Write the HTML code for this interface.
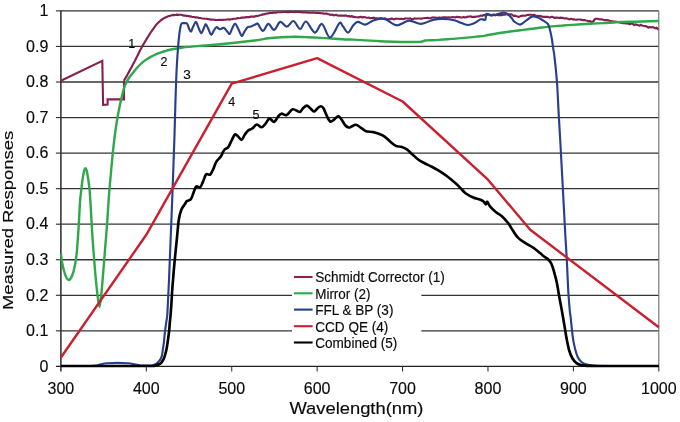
<!DOCTYPE html>
<html lang="en"><head><meta charset="utf-8"><title>Measured Responses vs Wavelength</title>
<style>html,body{margin:0;padding:0;background:#fff;}body{width:680px;height:422px;position:relative;overflow:hidden;font-family:"Liberation Sans",Arial,Helvetica,sans-serif;}</style>
</head><body>
<svg width="680" height="422" viewBox="0 0 680 422" style="display:block;position:absolute;left:0;top:0">
<rect x="0" y="0" width="680" height="422" fill="#ffffff"/>
<line x1="60.90" y1="10.90" x2="658.80" y2="10.90" stroke="#343434" stroke-width="1.3"/>
<line x1="60.90" y1="46.45" x2="658.80" y2="46.45" stroke="#343434" stroke-width="1.3"/>
<line x1="60.90" y1="82.00" x2="658.80" y2="82.00" stroke="#343434" stroke-width="1.3"/>
<line x1="60.90" y1="117.55" x2="658.80" y2="117.55" stroke="#343434" stroke-width="1.3"/>
<line x1="60.90" y1="153.10" x2="658.80" y2="153.10" stroke="#343434" stroke-width="1.3"/>
<line x1="60.90" y1="188.65" x2="658.80" y2="188.65" stroke="#343434" stroke-width="1.3"/>
<line x1="60.90" y1="224.20" x2="658.80" y2="224.20" stroke="#343434" stroke-width="1.3"/>
<line x1="60.90" y1="259.75" x2="658.80" y2="259.75" stroke="#343434" stroke-width="1.3"/>
<line x1="60.90" y1="295.30" x2="658.80" y2="295.30" stroke="#343434" stroke-width="1.3"/>
<line x1="60.90" y1="330.85" x2="658.80" y2="330.85" stroke="#343434" stroke-width="1.3"/>
<line x1="658.80" y1="10.90" x2="658.80" y2="366.40" stroke="#6a6a6a" stroke-width="1.1"/>
<rect x="292" y="266" width="129.3" height="86" fill="#ffffff"/>
<line x1="60.90" y1="10.40" x2="60.90" y2="371.60" stroke="#2a2a2a" stroke-width="1.5"/>
<line x1="55.90" y1="366.40" x2="658.80" y2="366.40" stroke="#222" stroke-width="1.2"/>
<line x1="55.90" y1="10.90" x2="60.90" y2="10.90" stroke="#333" stroke-width="1.15"/>
<line x1="55.90" y1="46.45" x2="60.90" y2="46.45" stroke="#333" stroke-width="1.15"/>
<line x1="55.90" y1="82.00" x2="60.90" y2="82.00" stroke="#333" stroke-width="1.15"/>
<line x1="55.90" y1="117.55" x2="60.90" y2="117.55" stroke="#333" stroke-width="1.15"/>
<line x1="55.90" y1="153.10" x2="60.90" y2="153.10" stroke="#333" stroke-width="1.15"/>
<line x1="55.90" y1="188.65" x2="60.90" y2="188.65" stroke="#333" stroke-width="1.15"/>
<line x1="55.90" y1="224.20" x2="60.90" y2="224.20" stroke="#333" stroke-width="1.15"/>
<line x1="55.90" y1="259.75" x2="60.90" y2="259.75" stroke="#333" stroke-width="1.15"/>
<line x1="55.90" y1="295.30" x2="60.90" y2="295.30" stroke="#333" stroke-width="1.15"/>
<line x1="55.90" y1="330.85" x2="60.90" y2="330.85" stroke="#333" stroke-width="1.15"/>
<line x1="146.31" y1="366.40" x2="146.31" y2="371.60" stroke="#333" stroke-width="1.1"/>
<line x1="231.73" y1="366.40" x2="231.73" y2="371.60" stroke="#333" stroke-width="1.1"/>
<line x1="317.14" y1="366.40" x2="317.14" y2="371.60" stroke="#333" stroke-width="1.1"/>
<line x1="402.56" y1="366.40" x2="402.56" y2="371.60" stroke="#333" stroke-width="1.1"/>
<line x1="487.97" y1="366.40" x2="487.97" y2="371.60" stroke="#333" stroke-width="1.1"/>
<line x1="573.39" y1="366.40" x2="573.39" y2="371.60" stroke="#333" stroke-width="1.1"/>
<line x1="658.80" y1="366.40" x2="658.80" y2="371.60" stroke="#333" stroke-width="1.1"/>
<g fill="none" stroke-linejoin="round" stroke-linecap="butt">
<path d="M60.90,80.80 L102.30,60.90 L103.10,104.80 L107.60,104.60 L107.60,99.40 L124.00,99.40 L124.00,80.60" stroke="#842050" stroke-width="2.1" stroke-linejoin="miter"/>
<path d="M124.00,80.60 L124.38,79.94 L124.88,79.10 L125.48,78.07 L126.19,76.85 L127.00,75.43 L127.90,73.80 L128.40,72.88 L128.95,71.87 L129.54,70.78 L130.17,69.63 L130.82,68.43 L131.48,67.19 L132.16,65.93 L132.83,64.66 L133.50,63.40 L134.16,62.16 L134.80,60.95 L135.40,59.80 L136.03,58.57 L136.65,57.35 L137.26,56.13 L137.87,54.91 L138.46,53.71 L139.05,52.52 L139.64,51.34 L140.22,50.17 L140.81,49.03 L141.40,47.90 L142.00,46.80 L142.67,45.59 L143.37,44.39 L144.07,43.18 L144.78,42.00 L145.48,40.84 L146.17,39.72 L146.83,38.64 L147.47,37.62 L148.06,36.67 L148.60,35.80 L149.50,34.35 L150.22,33.23 L150.85,32.27 L151.51,31.31 L152.30,30.20 L152.95,29.28 L153.62,28.31 L154.32,27.31 L155.05,26.29 L155.82,25.29 L156.64,24.32 L157.50,23.40 L158.42,22.51 L159.41,21.62 L160.44,20.75 L161.50,19.92 L162.58,19.14 L163.65,18.43 L164.70,17.80 L165.91,17.21 L167.12,16.76 L168.34,16.10 L169.56,16.02 L170.78,15.60 L172.00,15.21 L173.23,14.89 L174.46,15.08 L175.69,15.04 L176.93,14.59 L178.17,14.90 L179.40,14.76 L180.63,14.74 L181.87,14.96 L183.11,15.37 L184.34,15.64 L185.57,15.50 L186.80,15.95 L188.02,15.88 L189.24,16.35 L190.46,16.36 L191.67,16.78 L192.88,17.01 L194.10,17.00 L195.32,17.44 L196.56,17.39 L197.79,17.54 L199.02,18.02 L200.22,18.00 L201.40,18.27 L202.73,18.54 L204.00,18.77 L205.26,18.70 L206.57,18.76 L208.00,19.26 L209.07,19.14 L210.15,19.56 L211.26,19.68 L212.43,19.59 L213.67,19.75 L215.02,19.86 L216.50,19.96 L217.63,19.95 L218.84,19.93 L220.11,19.94 L221.44,20.05 L222.80,19.82 L224.19,19.73 L225.58,19.78 L226.98,19.49 L228.35,19.42 L229.70,19.61 L231.03,19.28 L232.36,19.14 L233.69,18.73 L235.03,18.72 L236.36,18.59 L237.70,18.14 L239.03,18.20 L240.36,18.01 L241.68,17.58 L243.00,17.66 L244.32,17.44 L245.63,17.40 L246.94,17.13 L248.26,17.17 L249.56,17.07 L250.86,16.64 L252.16,16.52 L253.45,16.65 L254.73,16.60 L256.00,16.09 L257.25,15.94 L258.49,15.73 L259.71,15.30 L260.93,15.00 L262.14,14.65 L263.35,14.34 L264.57,14.13 L265.79,13.70 L267.04,13.47 L268.30,13.42 L269.58,12.91 L270.88,12.98 L272.19,12.92 L273.51,12.61 L274.84,12.47 L276.17,12.63 L277.50,12.30 L278.84,12.20 L280.17,12.24 L281.50,12.29 L282.83,11.96 L284.16,12.00 L285.49,11.95 L286.82,12.13 L288.15,11.92 L289.48,12.07 L290.81,11.75 L292.14,11.82 L293.47,11.96 L294.80,12.07 L296.12,11.90 L297.44,11.84 L298.76,11.84 L300.08,12.08 L301.39,12.00 L302.71,12.34 L304.03,12.43 L305.35,12.21 L306.67,12.33 L308.00,12.64 L309.33,12.63 L310.67,12.77 L312.01,12.63 L313.36,12.60 L314.70,12.75 L316.04,13.04 L317.39,12.89 L318.73,13.02 L320.07,13.15 L321.40,13.26 L322.74,13.39 L324.10,13.76 L325.46,13.59 L326.83,13.69 L328.19,14.28 L329.53,14.43 L330.85,14.93 L332.14,14.54 L333.39,15.21 L334.60,15.33 L336.05,14.78 L337.45,15.44 L338.80,15.67 L340.11,15.62 L341.38,15.59 L342.61,15.47 L343.82,15.63 L345.00,15.63 L346.45,15.60 L347.74,16.23 L348.98,16.04 L350.25,16.67 L351.66,16.01 L353.30,17.00 L354.42,16.88 L355.62,17.21 L356.90,17.28 L358.22,17.39 L359.59,17.17 L360.98,16.71 L362.38,17.55 L363.78,17.08 L365.15,17.31 L366.50,17.76 L367.83,17.71 L369.15,17.69 L370.48,18.30 L371.81,18.06 L373.14,17.87 L374.48,17.86 L375.81,18.54 L377.14,18.23 L378.47,18.61 L379.80,18.25 L381.13,18.17 L382.46,18.58 L383.79,18.93 L385.12,18.36 L386.45,19.05 L387.78,19.24 L389.11,19.18 L390.44,19.25 L391.77,18.48 L393.10,19.13 L394.43,19.38 L395.76,18.58 L397.09,18.80 L398.42,18.79 L399.76,19.03 L401.09,18.91 L402.42,18.94 L403.75,19.22 L405.07,18.42 L406.40,18.45 L407.74,18.51 L409.09,18.48 L410.46,18.40 L411.82,19.28 L413.18,19.14 L414.53,18.34 L415.85,18.72 L417.14,18.50 L418.39,18.46 L419.60,18.45 L421.05,18.68 L422.45,18.55 L423.80,18.25 L425.11,18.00 L426.38,18.05 L427.61,17.77 L428.82,18.12 L430.00,18.22 L431.45,17.80 L432.74,17.43 L433.98,17.46 L435.25,17.59 L436.66,17.76 L438.30,17.88 L439.42,17.45 L440.62,17.83 L441.90,17.63 L443.22,17.40 L444.59,17.32 L445.98,17.41 L447.38,17.59 L448.78,17.28 L450.15,17.52 L451.50,17.26 L452.83,17.02 L454.15,17.28 L455.48,17.42 L456.81,16.78 L458.14,17.11 L459.48,17.08 L460.81,17.51 L462.14,17.53 L463.47,16.92 L464.80,17.40 L466.15,17.23 L467.55,16.64 L468.96,16.76 L470.38,16.34 L471.79,16.95 L473.17,16.71 L474.51,16.85 L475.79,16.67 L476.99,16.45 L478.10,16.43 L479.68,16.11 L480.98,15.49 L482.13,15.81 L483.26,15.07 L484.51,15.07 L486.00,15.57 L487.15,14.78 L488.39,14.77 L489.70,14.73 L491.05,15.47 L492.44,14.74 L493.85,14.55 L495.25,15.33 L496.64,14.57 L498.00,15.24 L499.36,15.01 L500.74,15.08 L502.15,15.09 L503.55,14.62 L504.94,14.74 L506.30,13.91 L507.60,14.60 L508.84,14.35 L510.00,14.62 L511.52,14.26 L512.81,15.33 L514.00,16.01 L515.19,15.62 L516.48,16.25 L518.00,16.66 L519.15,16.89 L520.37,16.16 L521.66,15.88 L522.99,15.68 L524.36,15.75 L525.76,15.61 L527.18,15.02 L528.59,14.83 L530.00,14.80 L531.27,14.79 L532.56,14.95 L533.87,14.77 L535.19,15.37 L536.52,16.05 L537.86,15.72 L539.19,16.28 L540.53,15.91 L541.87,16.63 L543.20,16.86 L544.53,16.90 L545.86,16.86 L547.19,16.93 L548.52,17.18 L549.85,17.52 L551.18,16.86 L552.51,16.90 L553.84,17.64 L555.17,17.91 L556.50,17.62 L557.82,17.66 L559.14,18.06 L560.46,17.65 L561.78,17.87 L563.10,17.93 L564.42,18.45 L565.74,18.32 L567.06,18.37 L568.38,18.96 L569.70,19.35 L571.04,18.83 L572.41,19.37 L573.79,19.20 L575.17,19.77 L576.55,19.63 L577.91,19.45 L579.25,19.53 L580.55,19.46 L581.80,20.05 L583.00,20.08 L584.46,20.06 L585.92,20.48 L587.34,20.69 L588.71,21.37 L589.98,20.95 L591.14,21.95 L592.16,21.51 L593.00,21.60 L594.03,20.73 L594.16,19.92 L595.00,19.12 L595.96,18.78 L597.12,18.78 L598.45,19.05 L599.94,19.35 L601.56,19.38 L603.30,19.82 L604.42,20.10 L605.62,20.04 L606.90,20.14 L608.22,20.36 L609.59,20.84 L610.98,21.06 L612.38,21.44 L613.78,21.63 L615.15,21.55 L616.50,21.74 L617.83,21.99 L619.15,22.16 L620.48,22.62 L621.81,22.89 L623.14,23.11 L624.48,22.99 L625.81,23.49 L627.14,23.41 L628.47,23.58 L629.80,24.27 L631.16,23.44 L632.57,23.66 L634.00,25.06 L635.44,24.40 L636.87,24.71 L638.26,25.28 L639.60,25.63 L640.87,24.76 L642.04,25.46 L643.10,25.80 L644.81,26.18 L646.11,26.00 L647.22,26.84 L648.34,27.67 L649.70,27.03 L650.93,27.48 L652.33,27.02 L653.82,27.51 L655.29,28.36 L656.64,27.68 L657.78,29.09 L658.60,29.25" stroke="#842050" stroke-width="2.15"/>
<path d="M60.90,253.80 C61.13,255.42 61.75,260.55 62.30,263.50 C62.85,266.45 63.53,269.17 64.20,271.50 C64.87,273.83 65.54,276.08 66.30,277.50 C67.06,278.92 67.80,280.25 68.75,280.00 C69.70,279.75 70.96,278.50 72.00,276.00 C73.04,273.50 74.17,269.33 75.00,265.00 C75.83,260.67 76.38,256.67 77.00,250.00 C77.62,243.33 78.25,233.00 78.75,225.00 C79.25,217.00 79.58,207.87 80.00,202.00 C80.42,196.13 80.85,193.73 81.30,189.80 C81.75,185.87 82.22,181.60 82.70,178.40 C83.18,175.20 83.75,172.28 84.20,170.60 C84.65,168.92 84.97,168.23 85.40,168.30 C85.83,168.37 86.30,169.00 86.80,171.00 C87.30,173.00 87.93,177.17 88.40,180.30 C88.87,183.43 89.23,185.68 89.60,189.80 C89.97,193.92 90.12,197.05 90.60,205.00 C91.08,212.95 91.77,226.67 92.50,237.50 C93.23,248.33 94.17,260.42 95.00,270.00 C95.83,279.58 96.75,288.83 97.50,295.00 C98.25,301.17 98.88,307.00 99.50,307.00 C100.12,307.00 100.67,300.33 101.25,295.00 C101.83,289.67 102.38,282.50 103.00,275.00 C103.62,267.50 104.33,258.33 105.00,250.00 C105.67,241.67 106.42,233.00 107.00,225.00 C107.58,217.00 108.07,208.25 108.50,202.00 C108.93,195.75 109.15,192.83 109.60,187.50 C110.05,182.17 110.62,176.25 111.20,170.00 C111.78,163.75 112.43,156.25 113.10,150.00 C113.77,143.75 114.53,137.55 115.20,132.50 C115.87,127.45 116.43,123.72 117.10,119.70 C117.77,115.68 118.48,111.95 119.20,108.40 C119.92,104.85 120.57,101.87 121.40,98.40 C122.23,94.93 123.40,90.17 124.20,87.60 C125.00,85.03 125.42,84.60 126.20,83.00 C126.98,81.40 127.87,79.60 128.90,78.00 C129.93,76.40 131.22,74.90 132.40,73.40 C133.58,71.90 134.78,70.40 136.00,69.00 C137.22,67.60 138.47,66.23 139.70,65.00 C140.93,63.77 142.17,62.58 143.40,61.60 C144.63,60.62 145.88,59.88 147.10,59.10 C148.32,58.32 149.48,57.58 150.70,56.90 C151.92,56.22 153.17,55.58 154.40,55.00 C155.63,54.42 156.87,53.88 158.10,53.40 C159.33,52.92 160.58,52.50 161.80,52.10 C163.02,51.70 164.18,51.35 165.40,51.00 C166.62,50.65 167.50,50.37 169.10,50.00 C170.70,49.63 173.18,49.13 175.00,48.80 C176.82,48.47 177.83,48.32 180.00,48.00 C182.17,47.68 183.83,47.32 188.00,46.90 C192.17,46.48 198.83,46.03 205.00,45.50 C211.17,44.97 216.67,44.53 225.00,43.70 C233.33,42.87 247.78,41.40 255.00,40.50 C262.22,39.60 263.88,38.85 268.30,38.30 C272.72,37.75 277.08,37.45 281.50,37.20 C285.92,36.95 290.38,36.80 294.80,36.80 C299.22,36.80 303.57,37.02 308.00,37.20 C312.43,37.38 316.97,37.63 321.40,37.90 C325.83,38.17 330.67,38.53 334.60,38.80 C338.53,39.07 341.88,39.37 345.00,39.50 C348.12,39.63 349.72,39.45 353.30,39.60 C356.88,39.75 362.08,40.13 366.50,40.40 C370.92,40.67 375.37,40.98 379.80,41.20 C384.23,41.42 388.67,41.57 393.10,41.70 C397.53,41.83 401.98,41.97 406.40,42.00 C410.82,42.03 416.50,42.15 419.60,41.90 C422.70,41.65 423.27,40.77 425.00,40.50 C426.73,40.23 427.78,40.40 430.00,40.30 C432.22,40.20 434.72,40.13 438.30,39.90 C441.88,39.67 447.08,39.23 451.50,38.90 C455.92,38.57 460.37,38.30 464.80,37.90 C469.23,37.50 474.67,36.88 478.10,36.50 C481.53,36.12 483.97,35.82 485.40,35.60 C486.83,35.38 484.60,35.60 486.70,35.20 C488.80,34.80 494.12,33.82 498.00,33.20 C501.88,32.58 505.78,32.05 510.00,31.50 C514.22,30.95 518.88,30.45 523.30,29.90 C527.72,29.35 532.08,28.75 536.50,28.20 C540.92,27.65 545.37,27.05 549.80,26.60 C554.23,26.15 558.67,25.83 563.10,25.50 C567.53,25.17 571.98,24.90 576.40,24.60 C580.82,24.30 585.12,23.95 589.60,23.70 C594.08,23.45 598.82,23.33 603.30,23.10 C607.78,22.87 612.08,22.52 616.50,22.30 C620.92,22.08 625.37,21.93 629.80,21.80 C634.23,21.67 638.30,21.63 643.10,21.50 C647.90,21.37 656.02,21.08 658.60,21.00" stroke="#2ea84a" stroke-width="2.4"/>
<path d="M61.00,366.00 C65.83,366.00 84.00,366.08 90.00,366.00 C96.00,365.92 95.17,365.78 97.00,365.50 C98.83,365.22 99.33,364.67 101.00,364.30 C102.67,363.93 104.25,363.55 107.00,363.30 C109.75,363.05 114.00,362.80 117.50,362.80 C121.00,362.80 124.92,363.02 128.00,363.30 C131.08,363.58 133.67,364.12 136.00,364.50 C138.33,364.88 139.67,365.42 142.00,365.60 C144.33,365.78 148.33,365.62 150.00,365.60 C151.67,365.58 151.08,365.72 152.00,365.50 C152.92,365.28 154.42,364.92 155.50,364.30 C156.58,363.68 157.67,362.67 158.50,361.80 C159.33,360.93 159.93,360.10 160.50,359.10 C161.07,358.10 161.50,357.45 161.90,355.80 C162.30,354.15 162.57,351.42 162.90,349.20 C163.23,346.98 163.63,344.72 163.90,342.50 C164.17,340.28 164.27,338.10 164.50,335.90 C164.73,333.70 165.02,331.52 165.30,329.30 C165.58,327.08 165.88,324.82 166.20,322.60 C166.52,320.38 166.93,318.93 167.20,316.00 C167.47,313.07 167.50,311.00 167.80,305.00 C168.10,299.00 168.53,290.83 169.00,280.00 C169.47,269.17 170.07,253.33 170.60,240.00 C171.13,226.67 171.55,217.50 172.20,200.00 C172.85,182.50 173.95,151.67 174.50,135.00 C175.05,118.33 175.15,110.83 175.50,100.00 C175.85,89.17 176.18,78.70 176.60,70.00 C177.02,61.30 177.55,53.72 178.00,47.80 C178.45,41.88 178.88,38.05 179.30,34.50 C179.72,30.95 180.12,28.32 180.50,26.50 C180.88,24.68 181.10,24.17 181.60,23.60 C182.10,23.03 182.67,23.15 183.50,23.10 C184.33,23.05 185.88,22.98 186.60,23.30 C187.32,23.62 187.42,24.18 187.80,25.00 C188.18,25.82 188.37,27.10 188.90,28.20 C189.43,29.30 190.28,31.87 191.00,31.60 C191.72,31.33 192.38,28.22 193.20,26.60 C194.02,24.98 195.08,21.90 195.90,21.90 C196.72,21.90 197.22,24.72 198.10,26.60 C198.98,28.48 200.23,32.98 201.20,33.20 C202.17,33.42 203.13,29.40 203.90,27.90 C204.67,26.40 205.03,23.98 205.80,24.20 C206.57,24.42 207.60,27.43 208.50,29.20 C209.40,30.97 210.32,34.57 211.20,34.80 C212.08,35.03 212.92,31.87 213.80,30.60 C214.68,29.33 215.50,27.43 216.50,27.20 C217.50,26.97 218.58,29.08 219.80,29.20 C221.02,29.32 222.58,27.57 223.80,27.90 C225.02,28.23 226.12,30.20 227.10,31.20 C228.08,32.20 228.82,34.45 229.70,33.90 C230.58,33.35 231.47,29.60 232.40,27.90 C233.33,26.20 234.30,23.48 235.30,23.70 C236.30,23.92 237.33,27.17 238.40,29.20 C239.47,31.23 240.72,35.45 241.70,35.90 C242.68,36.35 243.30,33.35 244.30,31.90 C245.30,30.45 246.58,28.08 247.70,27.20 C248.82,26.32 249.57,27.15 251.00,26.60 C252.43,26.05 255.13,24.33 256.30,23.90 C257.47,23.47 256.88,22.85 258.00,24.00 C259.12,25.15 261.28,30.82 263.00,30.80 C264.72,30.78 266.43,24.05 268.30,23.90 C270.17,23.75 272.22,30.23 274.20,29.90 C276.18,29.57 278.08,22.45 280.20,21.90 C282.32,21.35 284.68,26.75 286.90,26.60 C289.12,26.45 291.30,20.60 293.50,21.00 C295.70,21.40 298.00,28.92 300.10,29.00 C302.20,29.08 303.67,20.90 306.10,21.50 C308.53,22.10 312.05,32.20 314.70,32.60 C317.35,33.00 319.45,23.08 322.00,23.90 C324.55,24.72 327.12,37.60 330.00,37.50 C332.88,37.40 337.18,25.23 339.30,23.30 C341.42,21.37 341.25,24.35 342.70,25.90 C344.15,27.45 346.23,32.70 348.00,32.60 C349.77,32.50 351.65,27.08 353.30,25.30 C354.95,23.52 355.92,22.02 357.90,21.90 C359.88,21.78 362.65,24.82 365.20,24.60 C367.75,24.38 370.53,21.60 373.20,20.60 C375.87,19.60 378.98,18.75 381.20,18.60 C383.42,18.45 383.85,18.58 386.50,19.70 C389.15,20.82 393.35,25.15 397.10,25.30 C400.85,25.45 405.02,20.83 409.00,20.60 C412.98,20.37 417.00,24.02 421.00,23.90 C425.00,23.78 429.45,20.73 433.00,19.90 C436.55,19.07 438.77,18.85 442.30,18.90 C445.83,18.95 450.88,19.47 454.20,20.20 C457.52,20.93 459.88,22.50 462.20,23.30 C464.52,24.10 466.12,25.00 468.10,25.00 C470.08,25.00 471.98,24.25 474.10,23.30 C476.22,22.35 478.92,19.90 480.80,19.30 C482.68,18.70 484.48,20.58 485.40,19.70 C486.32,18.82 485.08,14.73 486.30,14.00 C487.52,13.27 489.87,15.53 492.70,15.30 C495.53,15.07 500.75,12.75 503.30,12.60 C505.85,12.45 506.55,13.42 508.00,14.40 C509.45,15.38 511.00,17.35 512.00,18.50 C513.00,19.65 512.67,20.28 514.00,21.30 C515.33,22.32 518.00,24.72 520.00,24.60 C522.00,24.48 524.00,21.93 526.00,20.60 C528.00,19.27 530.02,17.10 532.00,16.60 C533.98,16.10 536.03,16.93 537.90,17.60 C539.77,18.27 541.55,19.55 543.20,20.60 C544.85,21.65 546.70,22.47 547.80,23.90 C548.90,25.33 549.13,26.77 549.80,29.20 C550.47,31.63 551.25,35.40 551.80,38.50 C552.35,41.60 552.65,44.72 553.10,47.80 C553.55,50.88 553.85,51.22 554.50,57.00 C555.15,62.78 556.29,72.83 557.00,82.50 C557.71,92.17 558.17,104.58 558.75,115.00 C559.33,125.42 559.62,129.17 560.50,145.00 C561.38,160.83 563.18,194.75 564.00,210.00 C564.82,225.25 564.95,228.50 565.40,236.50 C565.85,244.50 566.35,251.60 566.70,258.00 C567.05,264.40 567.20,268.77 567.50,274.90 C567.80,281.03 568.12,288.82 568.50,294.80 C568.88,300.78 569.47,307.27 569.80,310.80 C570.13,314.33 570.15,312.92 570.50,316.00 C570.85,319.08 571.45,325.32 571.90,329.30 C572.35,333.28 572.65,336.58 573.20,339.90 C573.75,343.22 574.43,346.32 575.20,349.20 C575.97,352.08 576.80,355.10 577.80,357.20 C578.80,359.30 579.98,360.65 581.20,361.80 C582.42,362.95 583.12,363.47 585.10,364.10 C587.08,364.73 588.95,365.28 593.10,365.60 C597.25,365.92 599.05,365.93 610.00,366.00 C620.95,366.07 650.67,366.00 658.80,366.00" stroke="#27408b" stroke-width="2.15"/>
<path d="M60.90,357.50 L146.30,234.80 L231.70,83.70 L317.10,58.10 L402.60,101.50 L488.00,179.70 L530.20,229.70 L658.80,327.30" stroke="#c8202e" stroke-width="2.4"/>
<path d="M61.00,366.00 C70.83,366.00 105.17,366.00 120.00,366.00 C134.83,366.00 144.17,366.07 150.00,366.00 C155.83,365.93 153.58,365.83 155.00,365.60 C156.42,365.37 157.58,364.95 158.50,364.60 C159.42,364.25 159.83,364.10 160.50,363.50 C161.17,362.90 161.93,361.83 162.50,361.00 C163.07,360.17 163.45,359.58 163.90,358.50 C164.35,357.42 164.77,356.05 165.20,354.50 C165.63,352.95 166.10,351.20 166.50,349.20 C166.90,347.20 167.27,344.72 167.60,342.50 C167.93,340.28 168.22,338.10 168.50,335.90 C168.78,333.70 169.08,331.52 169.30,329.30 C169.52,327.08 169.60,324.82 169.80,322.60 C170.00,320.38 170.22,319.43 170.50,316.00 C170.78,312.57 171.18,306.75 171.50,302.00 C171.82,297.25 171.90,294.08 172.40,287.50 C172.90,280.92 173.73,270.83 174.50,262.50 C175.27,254.17 176.29,244.58 177.00,237.50 C177.71,230.42 178.04,224.58 178.75,220.00 C179.46,215.42 180.21,212.67 181.25,210.00 C182.29,207.33 184.06,205.48 185.00,204.00 C185.94,202.52 185.92,201.92 186.90,201.10 C187.88,200.28 189.78,200.53 190.90,199.10 C192.02,197.67 192.72,194.60 193.60,192.50 C194.48,190.40 195.10,187.38 196.20,186.50 C197.30,185.62 199.08,187.97 200.20,187.20 C201.32,186.43 201.90,184.05 202.90,181.90 C203.90,179.75 204.98,175.52 206.20,174.30 C207.42,173.08 208.98,175.55 210.20,174.60 C211.42,173.65 212.50,170.72 213.50,168.60 C214.50,166.48 214.98,163.90 216.20,161.90 C217.42,159.90 219.67,158.25 220.80,156.60 C221.93,154.95 222.30,153.25 223.00,152.00 C223.70,150.75 224.12,149.92 225.00,149.10 C225.88,148.28 227.20,148.53 228.30,147.10 C229.40,145.67 230.50,142.60 231.60,140.50 C232.70,138.40 233.80,135.17 234.90,134.50 C236.00,133.83 237.08,135.62 238.20,136.50 C239.32,137.38 240.48,140.13 241.60,139.80 C242.72,139.47 243.80,136.05 244.90,134.50 C246.00,132.95 246.98,131.50 248.20,130.50 C249.42,129.50 250.77,129.50 252.20,128.50 C253.63,127.50 255.25,124.72 256.80,124.50 C258.35,124.28 260.07,127.30 261.50,127.20 C262.93,127.10 264.08,125.33 265.40,123.90 C266.72,122.47 267.95,118.93 269.40,118.60 C270.85,118.27 272.65,122.23 274.10,121.90 C275.55,121.57 276.88,117.97 278.10,116.60 C279.32,115.23 279.97,113.97 281.40,113.70 C282.83,113.43 284.82,115.73 286.70,115.00 C288.58,114.27 290.57,109.80 292.70,109.30 C294.83,108.80 297.78,112.18 299.50,112.00 C301.22,111.82 301.77,109.27 303.00,108.20 C304.23,107.13 305.58,105.48 306.90,105.60 C308.22,105.72 309.68,107.92 310.90,108.90 C312.12,109.88 313.08,111.62 314.20,111.50 C315.32,111.38 316.48,109.08 317.60,108.20 C318.72,107.32 319.92,106.20 320.90,106.20 C321.88,106.20 322.50,106.53 323.50,108.20 C324.50,109.87 325.78,113.98 326.90,116.20 C328.02,118.42 329.10,120.83 330.20,121.50 C331.30,122.17 332.18,121.08 333.50,120.20 C334.82,119.32 336.77,116.32 338.10,116.20 C339.43,116.08 340.28,117.95 341.50,119.50 C342.72,121.05 344.18,124.17 345.40,125.50 C346.62,126.83 347.68,127.38 348.80,127.50 C349.92,127.62 350.88,126.65 352.10,126.20 C353.32,125.75 354.55,124.48 356.10,124.80 C357.65,125.12 359.75,127.03 361.40,128.10 C363.05,129.17 364.02,130.53 366.00,131.20 C367.98,131.87 370.97,131.60 373.30,132.10 C375.63,132.60 378.12,133.45 380.00,134.20 C381.88,134.95 382.83,135.32 384.60,136.60 C386.37,137.88 388.72,140.35 390.60,141.90 C392.48,143.45 394.13,145.08 395.90,145.90 C397.67,146.72 399.43,146.25 401.20,146.80 C402.97,147.35 404.72,148.02 406.50,149.20 C408.28,150.38 409.90,152.13 411.90,153.90 C413.90,155.67 416.30,158.20 418.50,159.80 C420.70,161.40 422.88,162.35 425.10,163.50 C427.32,164.65 429.58,165.55 431.80,166.70 C434.02,167.85 435.97,168.88 438.40,170.40 C440.83,171.92 443.48,173.60 446.40,175.80 C449.32,178.00 453.43,181.42 455.90,183.60 C458.37,185.78 459.53,187.25 461.20,188.90 C462.87,190.55 463.90,192.07 465.90,193.50 C467.90,194.93 470.88,196.50 473.20,197.50 C475.52,198.50 478.07,198.83 479.80,199.50 C481.53,200.17 482.62,200.68 483.60,201.50 C484.58,202.32 485.10,204.35 485.70,204.40 C486.30,204.45 486.48,201.48 487.20,201.80 C487.92,202.12 488.57,204.58 490.00,206.30 C491.43,208.02 493.87,210.48 495.80,212.10 C497.73,213.72 499.52,214.13 501.60,216.00 C503.68,217.87 506.42,220.87 508.30,223.30 C510.18,225.73 511.25,228.17 512.90,230.60 C514.55,233.03 516.10,235.80 518.20,237.90 C520.30,240.00 522.95,241.55 525.50,243.20 C528.05,244.85 531.07,246.15 533.50,247.80 C535.93,249.45 538.35,251.65 540.10,253.10 C541.85,254.55 542.63,255.43 544.00,256.50 C545.37,257.57 547.03,258.20 548.30,259.50 C549.57,260.80 550.62,262.17 551.60,264.30 C552.58,266.43 553.32,269.20 554.20,272.30 C555.08,275.40 556.12,279.15 556.90,282.90 C557.68,286.65 558.23,291.05 558.90,294.80 C559.57,298.55 560.25,301.87 560.90,305.40 C561.55,308.93 562.18,312.47 562.80,316.00 C563.42,319.53 563.97,322.83 564.60,326.60 C565.23,330.37 565.83,334.62 566.60,338.60 C567.37,342.58 568.22,347.18 569.20,350.50 C570.18,353.82 571.28,356.40 572.50,358.50 C573.72,360.60 575.05,362.00 576.50,363.10 C577.95,364.20 579.32,364.63 581.20,365.10 C583.08,365.57 583.00,365.75 587.80,365.90 C592.60,366.05 598.17,365.98 610.00,366.00 C621.83,366.02 650.67,366.00 658.80,366.00" stroke="#000" stroke-width="2.65"/>
</g>
<g font-family="'Liberation Sans', Arial, Helvetica, sans-serif" fill="#0a0a0a" stroke="#0a0a0a" stroke-width="0.15">
<line x1="293.9" y1="277.0" x2="312.6" y2="277.0" stroke="#8c2252" stroke-width="2.1"/>
<text x="315.2" y="282.4" font-size="14.4" textLength="129.6" lengthAdjust="spacingAndGlyphs">Schmidt Corrector (1)</text>
<line x1="293.9" y1="293.3" x2="312.6" y2="293.3" stroke="#2ea84a" stroke-width="2.1"/>
<text x="315.2" y="298.7" font-size="14.4" textLength="55.3" lengthAdjust="spacingAndGlyphs">Mirror (2)</text>
<line x1="293.9" y1="309.6" x2="312.6" y2="309.6" stroke="#27408b" stroke-width="2.1"/>
<text x="315.2" y="315.0" font-size="14.4" textLength="78.2" lengthAdjust="spacingAndGlyphs">FFL &amp; BP (3)</text>
<line x1="293.9" y1="326.2" x2="312.6" y2="326.2" stroke="#c8202e" stroke-width="2.1"/>
<text x="315.2" y="331.6" font-size="14.4" textLength="73.2" lengthAdjust="spacingAndGlyphs">CCD QE (4)</text>
<line x1="293.9" y1="342.5" x2="312.6" y2="342.5" stroke="#000" stroke-width="2.1"/>
<text x="315.2" y="347.9" font-size="14.4" textLength="82.2" lengthAdjust="spacingAndGlyphs">Combined (5)</text>
<text x="131.7" y="47.9" font-size="12.5" text-anchor="middle">1</text>
<text x="164.1" y="65.7" font-size="12.5" text-anchor="middle">2</text>
<text x="187.0" y="79.4" font-size="13.6" text-anchor="middle">3</text>
<text x="231.7" y="105.6" font-size="12.5" text-anchor="middle">4</text>
<text x="255.9" y="119.3" font-size="12.5" text-anchor="middle">5</text>
<text x="48.3" y="16.10" font-size="16" text-anchor="end">1</text>
<text x="48.3" y="51.65" font-size="16" text-anchor="end">0.9</text>
<text x="48.3" y="87.20" font-size="16" text-anchor="end">0.8</text>
<text x="48.3" y="122.75" font-size="16" text-anchor="end">0.7</text>
<text x="48.3" y="158.30" font-size="16" text-anchor="end">0.6</text>
<text x="48.3" y="193.85" font-size="16" text-anchor="end">0.5</text>
<text x="48.3" y="229.40" font-size="16" text-anchor="end">0.4</text>
<text x="48.3" y="264.95" font-size="16" text-anchor="end">0.3</text>
<text x="48.3" y="300.50" font-size="16" text-anchor="end">0.2</text>
<text x="48.3" y="336.05" font-size="16" text-anchor="end">0.1</text>
<text x="48.3" y="371.60" font-size="16" text-anchor="end">0</text>
<text x="60.90" y="393.7" font-size="16" text-anchor="middle">300</text>
<text x="146.31" y="393.7" font-size="16" text-anchor="middle">400</text>
<text x="231.73" y="393.7" font-size="16" text-anchor="middle">500</text>
<text x="317.14" y="393.7" font-size="16" text-anchor="middle">600</text>
<text x="402.56" y="393.7" font-size="16" text-anchor="middle">700</text>
<text x="487.97" y="393.7" font-size="16" text-anchor="middle">800</text>
<text x="573.39" y="393.7" font-size="16" text-anchor="middle">900</text>
<text x="658.80" y="393.7" font-size="16" text-anchor="middle">1000</text>
<text x="289.4" y="414.4" font-size="15.9" textLength="134" lengthAdjust="spacingAndGlyphs">Wavelength(nm)</text>
<text transform="translate(13.3,310.0) rotate(-90)" font-size="15.4" textLength="179.2" lengthAdjust="spacingAndGlyphs">Measured Responses</text>
</g>
</svg>
</body></html>
